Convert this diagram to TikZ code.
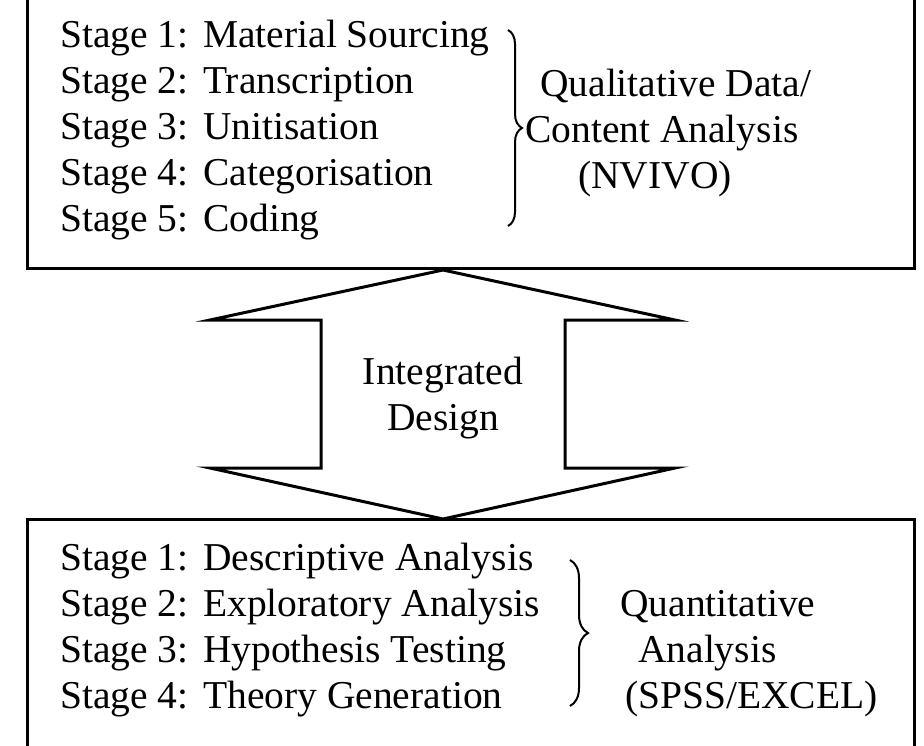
\documentclass[tikz,border=0pt]{standalone}
\usepackage{fontspec}
\setmainfont{Liberation Serif}
\usetikzlibrary{decorations.pathreplacing}
\begin{document}
\begin{tikzpicture}[x=1pt,y=-1pt,
  txt/.style={anchor=base west,inner sep=0pt,font=\fontsize{39.5}{44}\selectfont},
  ctxt/.style={anchor=base,inner sep=0pt,font=\fontsize{39.5}{44}\selectfont},
  frame/.style={draw,line width=3pt},
  brc/.style={draw,line width=2pt,decorate,decoration={brace,amplitude=#1}}]
\useasboundingbox (0,0) rectangle (924,745);
\draw[frame] (27,-10) rectangle (914,268);
\draw[frame] (27,519) rectangle (914,760);
% arrow
\draw[line width=3pt,line join=miter] (443,270) -- (675,320) -- (565,320) -- (565,468) -- (675,468) -- (443,519)
  -- (210,468) -- (321,468) -- (321,320) -- (210,320) -- cycle;
\node[ctxt] (i1) at (443,384) {Integrated};
\node[ctxt] (i2) at (443,430) {Design};
% top
\foreach \n/\a/\b [count=\i] in {s1/1/Material Sourcing,s2/2/Transcription,s3/3/Unitisation,s4/4/Categorisation,s5/5/Coding}{
  \node[txt] (t\n) at (60,{1+46*\i}) {Stage \a:};
  \node[txt] (u\n) at (203,{1+46*\i}) {\b};
}
\draw[brc=14pt] (508,30) -- (508,226);
\node[txt] (q1) at (540,96) {Qualitative Data/};
\node[txt] (q2) at (525,142) {Content Analysis};
\node[txt] (q3) at (578,188) {(NVIVO)};
% bottom
\foreach \a/\b [count=\i] in {1/Descriptive Analysis,2/Exploratory Analysis,3/Hypothesis Testing,4/Theory Generation}{
  \node[txt] (b\i) at (60,{524+46*\i}) {Stage \a:};
  \node[txt] (c\i) at (203,{524+46*\i}) {\b};
}
\draw[brc=18pt] (570,560) -- (570,706);
\node[txt] (p1) at (620,616) {Quantitative};
\node[txt] (p2) at (638,662) {Analysis};
\node[txt] (p3) at (625,708) {(SPSS/EXCEL)};
\end{tikzpicture}
\end{document}
